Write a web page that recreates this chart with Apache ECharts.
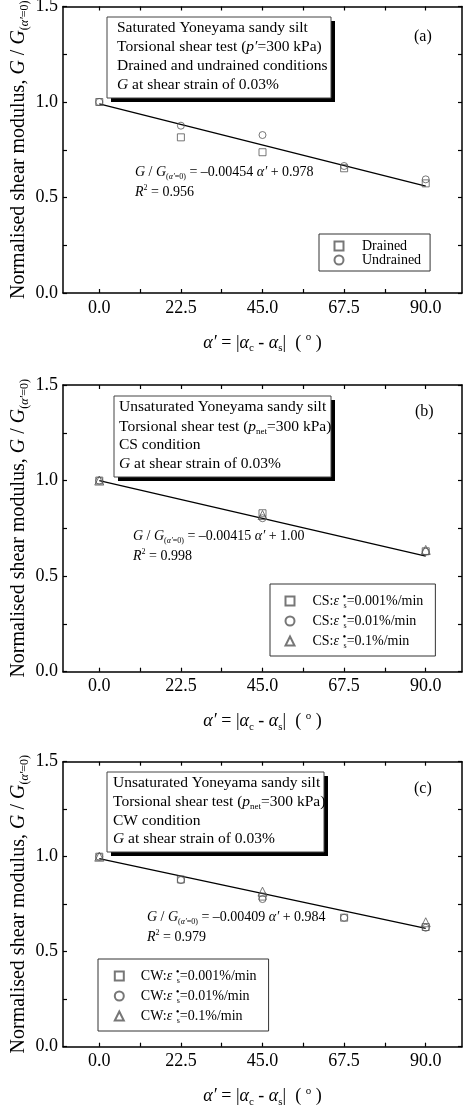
<!DOCTYPE html>
<html>
<head>
<meta charset="utf-8">
<script src="https://cdn.jsdelivr.net/npm/echarts@6/dist/echarts.min.js"></script>
<style>
  html, body { margin: 0; padding: 0; background: #fff; }
  #chart { width: 474px; height: 1110px; }
</style>
</head>
<body>
<div id="chart"></div>
<script>
// tick positions
const xLabelVals = [0, 22.5, 45, 67.5, 90]
const xTickVals = [0, 11.25, 22.5, 33.75, 45, 56.25, 67.5, 78.75, 90]
const yLabelVals = [0, 0.5, 1.0, 1.5]
const yTickVals = [0, 0.25, 0.5, 0.75, 1.0, 1.25, 1.5]

// (a) saturated
const alphaA = [0, 22.5, 45, 67.5, 90]
const aDrained = [1.0, 0.815, 0.737, 0.653, 0.574]
const aUndrained = [1.0, 0.876, 0.827, 0.665, 0.595]
const fitX = [0, 90]
const aFit = [0.99, 0.56]

// (b) unsaturated, CS
const alphaB = [0, 45, 90]
const bRate001 = [1.0, 0.829, 0.63]
const bRate01 = [1.0, 0.803, 0.628]
const bRate1 = [1.0, 0.82, 0.637]
const bFit = [1.0, 0.605]

// (c) unsaturated, CW
const alphaC = [0, 22.5, 45, 67.5, 90]
const alphaCTri = [0, 45, 90]
const cRate001 = [1.0, 0.88, 0.79, 0.679, 0.63]
const cRate01 = [1.0, 0.877, 0.777, 0.679, 0.626]
const cRate1 = [1.0, 0.816, 0.655]
const cFit = [0.99, 0.623]

const FONT = "'Liberation Serif', 'Times New Roman', serif"
const MARK = '#555'

const pairs = (xs, ys) => xs.map((x, i) => [x, ys[i]])

// rich styles for axis names / legends (echarts textStyle)
const richText = (fs, sp) => ({
  n: { fontFamily: FONT, fontSize: fs, color: '#000', lineHeight: fs + 4 },
  i: { fontFamily: FONT, fontSize: fs, color: '#000', fontStyle: 'italic', lineHeight: fs + 4 },
  sub: { fontFamily: FONT, fontSize: Math.round(fs * 0.6), color: '#000', lineHeight: Math.round(fs * 0.6), verticalAlign: 'bottom' },
  isub: { fontFamily: FONT, fontSize: Math.round(fs * 0.6), color: '#000', fontStyle: 'italic', lineHeight: Math.round(fs * 0.6), verticalAlign: 'bottom' },
  sup: { fontFamily: FONT, fontSize: Math.round(fs * 0.6), color: '#000', lineHeight: Math.round(fs * 0.6), verticalAlign: 'top' },
  dot: { fontFamily: FONT, fontSize: Math.round(fs * 0.8), color: '#000', lineHeight: Math.round(fs * 0.5), verticalAlign: 'top', width: 1 },
  sp: { width: sp || 0 }
})

// rich styles for graphic text (zrender)
const zRich = fs => ({
  n: { fontFamily: FONT, fontSize: fs, fill: '#000', lineHeight: fs + 3 },
  i: { fontFamily: FONT, fontSize: fs, fill: '#000', fontStyle: 'italic', lineHeight: fs + 3 },
  sub: { fontFamily: FONT, fontSize: Math.round(fs * 0.6), fill: '#000', lineHeight: Math.round(fs * 0.6), verticalAlign: 'bottom' },
  isub: { fontFamily: FONT, fontSize: Math.round(fs * 0.6), fill: '#000', fontStyle: 'italic', lineHeight: Math.round(fs * 0.6), verticalAlign: 'bottom' },
  sup: { fontFamily: FONT, fontSize: Math.round(fs * 0.6), fill: '#000', lineHeight: Math.round(fs * 0.6), verticalAlign: 'top' }
})

const grids = [
  { left: 63, right: 12, top: 6.5, height: 286.5, outerBoundsMode: 'none' },
  { left: 63, right: 12, top: 385, height: 286.7, outerBoundsMode: 'none' },
  { left: 63, right: 12, top: 761.7, height: 285, outerBoundsMode: 'none' }
]

const yName = '{n|Normalised shear modulus, }{i|G}{n| / }{i|G}{sub|(}{isub|α′}{sub|=0)}'
const xName = '{i|α′}{n| = |}{i|α}{sub|c}{n| - }{i|α}{sub|s}{n||  ( }{sup|o}{n| )}'

const xAxes = []
const yAxes = []
grids.forEach((g, k) => {
  const line = { onZero: false, lineStyle: { color: '#000', width: 1.5 } }
  const tick = { inside: true, length: 4, customValues: xTickVals, lineStyle: { color: '#000', width: 1.2 } }
  xAxes.push({
    type: 'value', gridIndex: k, min: -10, max: 100, position: 'bottom',
    axisLine: line, axisTick: tick,
    axisLabel: { customValues: xLabelVals, formatter: v => v.toFixed(1), margin: 6, fontFamily: FONT, fontSize: 18, color: '#000' },
    splitLine: { show: false },
    name: xName, nameLocation: 'middle', nameGap: 39, nameMoveOverlap: false,
    nameTextStyle: { rich: richText(18) }
  })
  xAxes.push({
    type: 'value', gridIndex: k, min: -10, max: 100, position: 'top',
    axisLine: line, axisTick: tick, axisLabel: { show: false }, splitLine: { show: false }
  })
  const ytick = { inside: true, length: 4, customValues: yTickVals, lineStyle: { color: '#000', width: 1.2 } }
  yAxes.push({
    type: 'value', gridIndex: k, min: 0, max: 1.5, position: 'left',
    axisLine: { show: true, onZero: false, lineStyle: { color: '#000', width: 1.5 } },
    axisTick: ytick,
    axisLabel: { customValues: yLabelVals, formatter: v => v.toFixed(1), margin: 5, fontFamily: FONT, fontSize: 18, color: '#000' },
    splitLine: { show: false },
    name: yName, nameLocation: 'middle', nameGap: 32, nameRotate: 90, nameMoveOverlap: false,
    nameTextStyle: { rich: richText(20) }
  })
  yAxes.push({
    type: 'value', gridIndex: k, min: 0, max: 1.5, position: 'right',
    axisLine: { show: true, onZero: false, lineStyle: { color: '#000', width: 1.5 } },
    axisTick: ytick, axisLabel: { show: false }, splitLine: { show: false }
  })
})

const scatter = (name, k, symbol, data) => ({
  name, type: 'scatter', xAxisIndex: 2 * k, yAxisIndex: 2 * k,
  symbol, symbolSize: symbol === 'triangle' ? 9 : 7,
  itemStyle: { color: 'rgba(255,255,255,0)', borderColor: MARK, borderWidth: 1 },
  data
})
const fitLine = (k, ys) => ({
  name: 'fit' + k, type: 'line', xAxisIndex: 2 * k, yAxisIndex: 2 * k,
  symbol: 'none', lineStyle: { color: '#000', width: 1.3 }, z: 1,
  data: pairs(fitX, ys)
})

const series = [
  fitLine(0, aFit),
  scatter('Drained', 0, 'rect', pairs(alphaA, aDrained)),
  scatter('Undrained', 0, 'circle', pairs(alphaA, aUndrained)),
  fitLine(1, bFit),
  scatter('CS1', 1, 'rect', pairs(alphaB, bRate001)),
  scatter('CS2', 1, 'circle', pairs(alphaB, bRate01)),
  scatter('CS3', 1, 'triangle', pairs(alphaB, bRate1)),
  fitLine(2, cFit),
  scatter('CW1', 2, 'rect', pairs(alphaC, cRate001)),
  scatter('CW2', 2, 'circle', pairs(alphaC, cRate01)),
  scatter('CW3', 2, 'triangle', pairs(alphaCTri, cRate1))
]

const names = {
  'CS1': '{sp|}{n|CS:}{i|ε }{dot|•}{sub|s}{n|=0.001%/min}',
  'CS2': '{sp|}{n|CS:}{i|ε }{dot|•}{sub|s}{n|=0.01%/min}',
  'CS3': '{sp|}{n|CS:}{i|ε }{dot|•}{sub|s}{n|=0.1%/min}',
  'CW1': '{sp|}{n|CW:}{i|ε }{dot|•}{sub|s}{n|=0.001%/min}',
  'CW2': '{sp|}{n|CW:}{i|ε }{dot|•}{sub|s}{n|=0.01%/min}',
  'CW3': '{sp|}{n|CW:}{i|ε }{dot|•}{sub|s}{n|=0.1%/min}',
  'Drained': '{sp|}{n|Drained}',
  'Undrained': '{sp|}{n|Undrained}'
}

const legendBase = {
  orient: 'vertical', borderColor: '#333', borderWidth: 1, backgroundColor: '#fff',
  itemWidth: 9, itemHeight: 9, itemGap: 2, selectedMode: false,
  formatter: n => names[n]
}
const legends = [
  Object.assign({}, legendBase, {
    data: ['Drained', 'Undrained'], left: 319, top: 234, padding: [5, 9, 4, 14.5], itemGap: 0,
    textStyle: { rich: richText(14, 13.5), fontFamily: FONT, fontSize: 14 }
  }),
  Object.assign({}, legendBase, {
    data: ['CS1', 'CS2', 'CS3'], left: 270, top: 584, padding: [8, 12, 6, 14.5],
    textStyle: { rich: richText(14, 13), fontFamily: FONT, fontSize: 14 }
  }),
  Object.assign({}, legendBase, {
    data: ['CW1', 'CW2', 'CW3'], left: 98, top: 959, padding: [8, 12, 6, 15.8],
    textStyle: { rich: richText(14, 12), fontFamily: FONT, fontSize: 14 }
  })
]

// annotation boxes
const box = (x, y, w, h) => [
  { type: 'rect', shape: { x: x + 4, y: y + 4, width: w, height: h }, style: { fill: '#000' }, z: 10 },
  { type: 'rect', shape: { x, y, width: w, height: h }, style: { fill: '#fff', stroke: '#444', lineWidth: 1 }, z: 11 }
]
const txt = (x, y, text, fs) => ({
  type: 'text', x, y, z: 12,
  style: { text, rich: zRich(fs), verticalAlign: 'middle', align: 'left', font: fs + 'px ' + FONT, fill: '#000' }
})

const graphics = [].concat(
  box(107, 17, 224, 81),
  [
    txt(117, 28, '{n|Saturated Yoneyama sandy silt}', 15.5),
    txt(117, 47, '{n|Torsional shear test (}{i|p′}{n|=300 kPa)}', 15.5),
    txt(117, 66, '{n|Drained and undrained conditions}', 15.5),
    txt(117, 85, '{i|G}{n| at shear strain of 0.03%}', 15.5),
    txt(414, 37, '{n|(a)}', 16),
    txt(135, 172, '{i|G}{n| / }{i|G}{sub|(}{isub|α′}{sub|=0)}{n| = –0.00454 }{i|α′}{n| + 0.978}', 14),
    txt(135, 192, '{i|R}{sup|2}{n| = 0.956}', 14)
  ],
  box(114, 396, 217, 81),
  [
    txt(119, 407, '{n|Unsaturated Yoneyama sandy silt}', 15.5),
    txt(119, 427, '{n|Torsional shear test (}{i|p}{sub|net}{n|=300 kPa)}', 15.5),
    txt(119, 445, '{n|CS condition}', 15.5),
    txt(119, 464, '{i|G}{n| at shear strain of 0.03%}', 15.5),
    txt(415, 412, '{n|(b)}', 16),
    txt(133, 536, '{i|G}{n| / }{i|G}{sub|(}{isub|α′}{sub|=0)}{n| = –0.00415 }{i|α′}{n| + 1.00}', 14),
    txt(133, 556, '{i|R}{sup|2}{n| = 0.998}', 14)
  ],
  box(107, 772, 217, 80),
  [
    txt(113, 783, '{n|Unsaturated Yoneyama sandy silt}', 15.5),
    txt(113, 802, '{n|Torsional shear test (}{i|p}{sub|net}{n|=300 kPa)}', 15.5),
    txt(113, 821, '{n|CW condition}', 15.5),
    txt(113, 839, '{i|G}{n| at shear strain of 0.03%}', 15.5),
    txt(414, 789, '{n|(c)}', 16),
    txt(147, 917, '{i|G}{n| / }{i|G}{sub|(}{isub|α′}{sub|=0)}{n| = –0.00409 }{i|α′}{n| + 0.984}', 14),
    txt(147, 937, '{i|R}{sup|2}{n| = 0.979}', 14)
  ]
)

const myChart = echarts.init(document.getElementById('chart'))
myChart.setOption({
  backgroundColor: '#fff',
  animation: false,
  grid: grids,
  xAxis: xAxes,
  yAxis: yAxes,
  legend: legends,
  series,
  graphic: graphics
})
</script>
</body>
</html>
